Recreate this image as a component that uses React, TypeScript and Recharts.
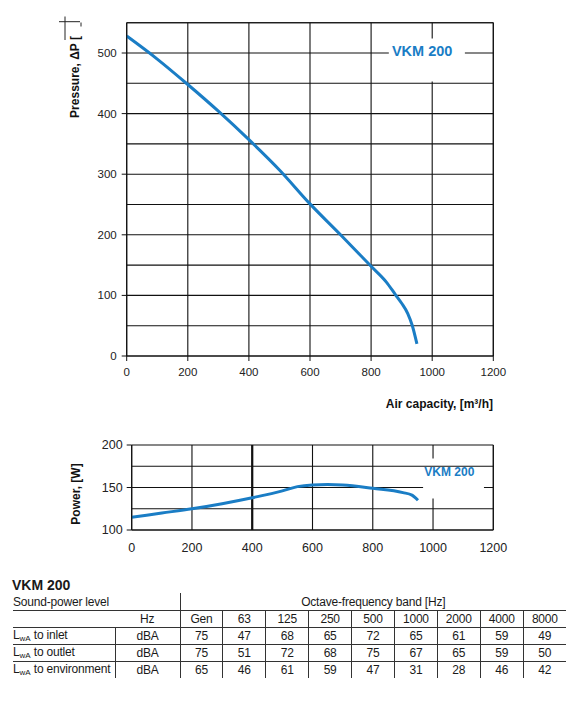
import React from "react";
import {
  LineChart,
  Line,
  XAxis,
  YAxis,
  CartesianGrid,
  ReferenceLine,
  ReferenceArea,
} from "recharts";

// pressure curve
const flow = [0, 100, 200, 300, 400, 500, 600, 700, 800, 850, 880, 900, 920, 935, 950];
const pressure = [528, 490, 448, 404, 357, 307, 251, 200, 148, 122, 101, 87, 70, 50, 20];

// power curve
const powerFlow = [0, 100, 200, 300, 400, 500, 550, 600, 650, 700, 800, 900, 930, 950];
const power = [115, 120, 125, 131, 138, 146, 151, 153, 153.5, 153, 149, 144, 141, 135];

const flowTicks = [0, 200, 400, 600, 800, 1000, 1200];
const pressureTicks = [0, 100, 200, 300, 400, 500];
const pressureMinor = [50, 150, 250, 350, 450, 550];
const powerTicks = [100, 150, 200];
const powerMinor = [125, 175];

// sound table
const bands = ["Gen", "63", "125", "250", "500", "1000", "2000", "4000", "8000"];
const rowNames = ["to inlet", "to outlet", "to environment"];
const inlet = [75, 47, 68, 65, 72, 65, 61, 59, 49];
const outlet = [75, 51, 72, 68, 75, 67, 65, 59, 50];
const environment = [65, 46, 61, 59, 47, 31, 28, 46, 42];
const soundRows = [inlet, outlet, environment];

const BLUE = "#1a7dc5";
const INK = "#111";
const FONT = '"Liberation Sans", Arial, sans-serif';

const pressureData = flow.map((x, i) => ({ flow: x, pressure: pressure[i] }));
const powerData = powerFlow.map((x, i) => ({ flow: x, power: power[i] }));

const tickStyle = { fontSize: 11.5, fill: "#222", fontFamily: FONT };

function PressureChart() {
  return (
    <LineChart
      width={571}
      height={420}
      data={pressureData}
      margin={{ top: 22.7, right: 77.7, left: 0, bottom: 34 }}
    >
      <CartesianGrid stroke={INK} strokeWidth={1.1} />
      {pressureMinor.map((v) => (
        <ReferenceLine key={v} y={v} stroke={INK} strokeWidth={1.1} />
      ))}
      <ReferenceLine x={1200} stroke={INK} strokeWidth={1.1} />
      <ReferenceArea x1={858} x2={1107} y1={453} y2={524} fill="#fff" fillOpacity={1} stroke="none" />
      <ReferenceArea
        x1={870}
        x2={1064}
        y1={496}
        y2={512}
        fill="none"
        stroke="none"
        label={{ value: "VKM 200", position: "center", fill: BLUE, fontSize: 14.5, fontWeight: 700, fontFamily: FONT }}
      />
      <XAxis
        type="number"
        dataKey="flow"
        domain={[0, 1200]}
        ticks={flowTicks}
        height={30}
        tick={tickStyle}
        tickSize={5}
        tickMargin={7}
        axisLine={{ stroke: INK, strokeWidth: 1.1 }}
        tickLine={{ stroke: INK }}
      />
      <YAxis
        type="number"
        domain={[0, 550]}
        ticks={pressureTicks}
        width={126.7}
        tick={tickStyle}
        tickSize={5}
        tickMargin={5}
        axisLine={{ stroke: INK, strokeWidth: 1.1 }}
        tickLine={{ stroke: INK }}
      />
      <Line
        type="monotone"
        dataKey="pressure"
        stroke={BLUE}
        strokeWidth={3}
        dot={false}
        isAnimationActive={false}
      />
    </LineChart>
  );
}

function PowerChart() {
  return (
    <LineChart
      width={571}
      height={150}
      data={powerData}
      margin={{ top: 25, right: 77.7, left: 0, bottom: 10 }}
    >
      <CartesianGrid stroke={INK} strokeWidth={1.1} />
      {powerMinor.map((v) => (
        <ReferenceLine key={v} y={v} stroke={INK} strokeWidth={1.1} />
      ))}
      <ReferenceLine x={1200} stroke={INK} strokeWidth={1.1} />
      <ReferenceLine x={400} stroke={INK} strokeWidth={2.2} />
      <ReferenceArea x1={967} x2={1169} y1={137} y2={184} fill="#fff" fillOpacity={1} stroke="none" />
      <ReferenceArea
        x1={1000}
        x2={1108}
        y1={164}
        y2={173}
        fill="none"
        stroke="none"
        label={{ value: "VKM 200", position: "center", fill: BLUE, fontSize: 12, fontWeight: 700, fontFamily: FONT }}
      />
      <XAxis
        type="number"
        dataKey="flow"
        domain={[0, 1200]}
        ticks={flowTicks}
        height={30}
        tick={{ ...tickStyle, fontSize: 12.5 }}
        tickSize={4}
        tickMargin={9}
        axisLine={{ stroke: INK, strokeWidth: 1.1 }}
        tickLine={false}
      />
      <YAxis
        type="number"
        domain={[100, 200]}
        ticks={powerTicks}
        width={131.7}
        tick={{ ...tickStyle, fontSize: 12.5 }}
        tickSize={5}
        tickMargin={4}
        axisLine={{ stroke: INK, strokeWidth: 1.1 }}
        tickLine={{ stroke: INK }}
      />
      <Line
        type="monotone"
        dataKey="power"
        stroke={BLUE}
        strokeWidth={3}
        dot={false}
        isAnimationActive={false}
      />
    </LineChart>
  );
}

const line = "1px solid #333";
const cell: React.CSSProperties = {
  padding: 0,
  textAlign: "center",
  borderLeft: line,
  verticalAlign: "middle",
};
const plain: React.CSSProperties = { padding: 0, verticalAlign: "middle", whiteSpace: "nowrap" };

function SoundTable() {
  return (
    <div style={{ position: "absolute", left: 0, top: 0, fontFamily: FONT, color: "#1a1a1a" }}>
      <div
        style={{
          position: "absolute",
          left: 12,
          top: 577,
          fontSize: 14,
          fontWeight: 700,
          lineHeight: "16px",
          whiteSpace: "nowrap",
        }}
      >
        VKM 200
      </div>
      <table
        style={{
          position: "absolute",
          left: 13,
          top: 593,
          width: 553,
          borderCollapse: "collapse",
          tableLayout: "fixed",
          fontSize: 12,
          letterSpacing: "-0.2px",
          lineHeight: "14px",
        }}
      >
        <colgroup>
          <col style={{ width: 102 }} />
          <col style={{ width: 65 }} />
          {bands.map((b) => (
            <col key={b} style={{ width: 42.9 }} />
          ))}
        </colgroup>
        <tbody>
          <tr style={{ height: 17.7, borderBottom: line }}>
            <td colSpan={2} style={{ ...plain, textAlign: "left" }}>
              Sound-power level
            </td>
            <td colSpan={9} style={cell}>
              Octave-frequency band [Hz]
            </td>
          </tr>
          <tr style={{ height: 16.5, borderBottom: line }}>
            <td style={plain} />
            <td style={{ ...plain, textAlign: "center" }}>Hz</td>
            {bands.map((b) => (
              <td key={b} style={cell}>
                {b}
              </td>
            ))}
          </tr>
          {soundRows.map((vals, r) => (
            <tr key={r} style={{ height: 16.7, borderBottom: r < 2 ? line : "none" }}>
              <td style={{ ...plain, textAlign: "left", overflow: "visible" }}>
                L
                <span style={{ fontSize: 8, position: "relative", top: 2.5, letterSpacing: 0 }}>wA</span>{" "}
                {rowNames[r]}
              </td>
              <td style={cell}>dBA</td>
              {vals.map((v, i) => (
                <td key={i} style={cell}>
                  {v}
                </td>
              ))}
            </tr>
          ))}
        </tbody>
      </table>
    </div>
  );
}

function Titles() {
  const t = { fontFamily: FONT, fontWeight: 700, fontSize: 12, fill: "#111" };
  return (
    <svg
      width={571}
      height={709}
      style={{ position: "absolute", left: 0, top: 0, pointerEvents: "none" }}
    >
      <text {...t} x={78.5} y={77} textAnchor="middle" transform="rotate(-90 78.5 77)">
        Pressure, ΔP [
      </text>
      <line x1={65} y1={16.5} x2={65} y2={40} stroke="#222" strokeWidth={1} />
      <line x1={59} y1={21.7} x2={80} y2={21.7} stroke="#222" strokeWidth={1} />
      <line x1={81} y1={22.5} x2={81} y2={26.5} stroke="#222" strokeWidth={1} />
      <text {...t} x={493} y={408} textAnchor="end">
        Air capacity, [m³/h]
      </text>
      <text {...t} x={80.3} y={494} textAnchor="middle" transform="rotate(-90 80.3 494)">
        Power, [W]
      </text>
    </svg>
  );
}

export default function App() {
  return (
    <div style={{ position: "absolute", left: 0, top: 0, width: 571, height: 709, background: "#fff" }}>
      <div style={{ position: "absolute", left: 0, top: 0 }}>
        <PressureChart />
      </div>
      <div style={{ position: "absolute", left: 0, top: 420 }}>
        <PowerChart />
      </div>
      <Titles />
      <SoundTable />
    </div>
  );
}
